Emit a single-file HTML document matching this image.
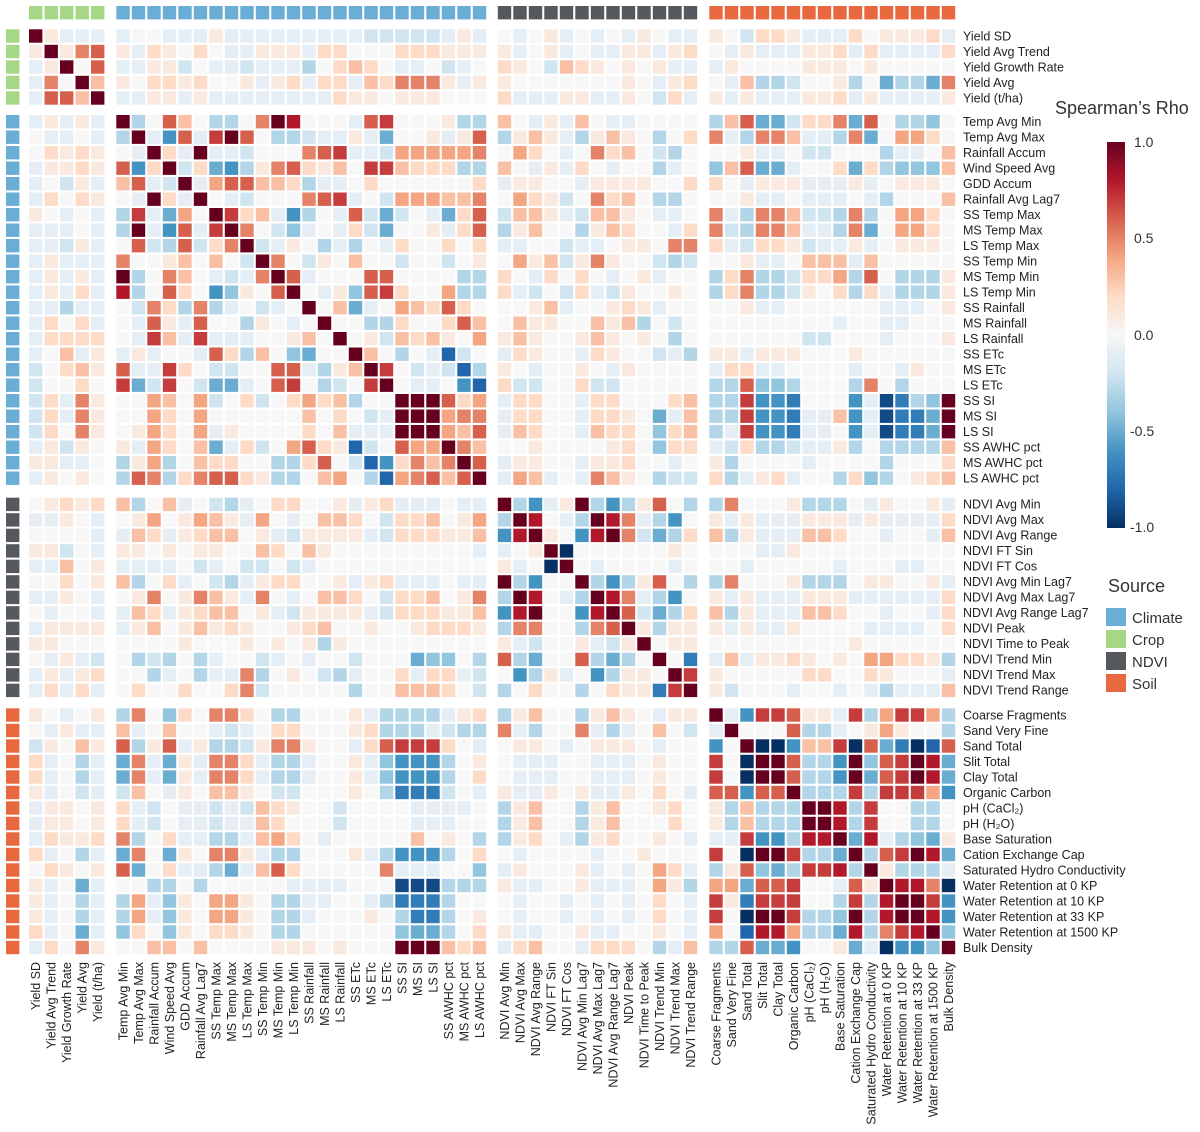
<!DOCTYPE html>
<html><head><meta charset="utf-8">
<style>
html,body{margin:0;padding:0;background:#fff;}
svg{display:block;font-family:"Liberation Sans",Arial,sans-serif;}
</style></head>
<body>
<svg id="chart" width="1200" height="1132" viewBox="0 0 1200 1132" xmlns="http://www.w3.org/2000/svg">
<defs>
<linearGradient id="cbar" x1="0" y1="1" x2="0" y2="0">
<stop offset="0" stop-color="#053061"/><stop offset="0.1" stop-color="#2166ac"/><stop offset="0.2" stop-color="#4393c3"/><stop offset="0.3" stop-color="#92c5de"/><stop offset="0.4" stop-color="#d1e5f0"/><stop offset="0.5" stop-color="#f7f7f7"/><stop offset="0.6" stop-color="#fddbc7"/><stop offset="0.7" stop-color="#f4a582"/><stop offset="0.8" stop-color="#d6604d"/><stop offset="0.9" stop-color="#b2182b"/><stop offset="1" stop-color="#67001f"/>
</linearGradient>
</defs>
<g id="cells"></g>
<g id="bars"></g>
<g id="rlabels"></g>
<g id="clabels"></g>
<g>
<text x="1055" y="114" font-size="18" fill="#333">Spearman’s Rho</text>
<rect x="1107" y="142" width="18" height="386" fill="url(#cbar)"/>
<text x="1134" y="147" font-size="14" fill="#333">1.0</text>
<text x="1134" y="243" font-size="14" fill="#333">0.5</text>
<text x="1134" y="340" font-size="14" fill="#333">0.0</text>
<text x="1130" y="436" font-size="14" fill="#333">-0.5</text>
<text x="1130" y="532" font-size="14" fill="#333">-1.0</text>
</g>
<g>
<text x="1108" y="592" font-size="18" fill="#333">Source</text>
<rect x="1106" y="608" width="20" height="18" fill="#6aaed6"/>
<text x="1132" y="623" font-size="15" fill="#333">Climate</text>
<rect x="1106" y="630" width="20" height="18" fill="#a6d785"/>
<text x="1132" y="645" font-size="15" fill="#333">Crop</text>
<rect x="1106" y="652" width="20" height="18" fill="#55595e"/>
<text x="1132" y="667" font-size="15" fill="#333">NDVI</text>
<rect x="1106" y="674" width="20" height="18" fill="#e8683f"/>
<text x="1132" y="689" font-size="15" fill="#333">Soil</text>
</g>
</svg>
<script>
const cropVars = ["Yield SD","Yield Avg Trend","Yield Growth Rate","Yield Avg","Yield (t/ha)"];
const climateVars = ["Temp Avg Min","Temp Avg Max","Rainfall Accum","Wind Speed Avg","GDD Accum","Rainfall Avg Lag7","SS Temp Max","MS Temp Max","LS Temp Max","SS Temp Min","MS Temp Min","LS Temp Min","SS Rainfall","MS Rainfall","LS Rainfall","SS ETc","MS ETc","LS ETc","SS SI","MS SI","LS SI","SS AWHC pct","MS AWHC pct","LS AWHC pct"];
const ndviVars = ["NDVI Avg Min","NDVI Avg Max","NDVI Avg Range","NDVI FT Sin","NDVI FT Cos","NDVI Avg Min Lag7","NDVI Avg Max Lag7","NDVI Avg Range Lag7","NDVI Peak","NDVI Time to Peak","NDVI Trend Min","NDVI Trend Max","NDVI Trend Range"];
const soilVars = ["Coarse Fragments","Sand Very Fine","Sand Total","Slit Total","Clay Total","Organic Carbon","pH (CaCl\u2082)","pH (H\u2082O)","Base Saturation","Cation Exchange Cap","Saturated Hydro Conductivity","Water Retention at 0 KP","Water Retention at 10 KP","Water Retention at 33 KP","Water Retention at 1500 KP","Bulk Density"];
const groupColors = ["#a6d785","#6aaed6","#55595e","#e8683f"];
// Lower-triangle rho codes: 1-9 = +0.1..+0.9, X = +1, a-i = -0.1..-0.9, z = -1, . = 0
const cropRows = ["X","1X","a1X","a5.X","a663X"];
const climateRows = ["a1a1aX",".aa.acX",".2121.aX","a11216f2X","a.b1a36abX","a2.21.aX2aX","1.a.ac7ae4.X","aaa.acXaf6a7X","aab1a.6bc6b25X","a1aaa5..13.3.bX","a1a1aXc.53.aba5X","a1a2a8c.62.fd1.6X","aacaa.b52c5ca.ba.X","a2.2a.a61a6..c1.a.X","a2222.a73a7aaa..13.X","a.3a1a1a..a62c3.de..X","b.2316aa72.bb..66ac13X","b..2.7eb7.beea.67.cb.7X","b2a51..43.4b.2b.2423c..X","b2a51..42.4......3.2.baXX","b2.51.142.4a1....2.3aaaXXX","a1b1.1a42.3ea2b.4621hb.644X","11aa.c14c.322..cc26.bhf2535X","a1.1.c65c256621cc.34.ch45636X"];
const ndviRows = [".12123c.3a.bca.22..1a12aaa.aaX","aa1.a.14.1431a4.a.332.b223.14cX","....aa32a1233.1ab1111ab222113f8X","11b.a11.1.11..32.31.........aa.1X","aa3.1aaaa.ba.bb.ba...........1a.zX","..2.13c.2a.bca122..1a12aaa.aaXcf..X","aa1.a.15.1531a5.a.332.b223.15cX8.acX",".a..aa32a1233.1ab1111ab222113f8X..f8X","a1111a13.13121..123..1..12221c55..c56X","11.......1...1.1.1c1.........1ab..1ab1X",".a1ab.cbc.ca..ba.a..b...edd.c6ce..6cec.X","a1a12..ca.caa5c.1.bca..2a22ab.fc1a.fc11.X","a2a2a.2..2..25b.....c..3332.bc.2..c.211g7X"];
const soilRows = ["1.a.1c5.d2.552.cc...1acccca12c13..c131.a11X",".a1aa3a.3..aba.22...12cccabcc5ac..5aca.3.baX","b1.316c16a1ccb1551..a267772.a.11.a.111.a..f.X","2a.cae5ae1a552acca..1adfffc.1.aaa..aaa.1..7.zX","2a.cae5ae1a552acca..1adfffc.2.aaa..aaa.1..7.zXX","1a.bab3.a1.331.bb...1.cgggb.a1aa1.1aa1.2.a66f66X","a11.12ab.aabab321..b....aaaa.c13..c13..12.1c3cccX","a11.12ab.aabaa32...b....aaa..c13..c13...2.1c3cccXX","a21125c.2aacca342.a.....3.1.cc12.ac12..1.aaa7ffc88X","2a.cae5.e1.551acc...1acfffc.2.a....a..1...7.zXX7cceX",".21.16e.2aacea362.....5aaa..da1...1a.a.42ac16dec778cX","1a.ea..cc.c.....aaaa...iiiccc1aa..1aaa.41c44e667..a61X","1a.cac4ad1.441.ccaa..acgggc...a..a.a.a.2.a71g777..c7c8X","1a.cac4ad1.441.cca...1.cggc.1.a..a.a.a.2.a7.zXX7ccdXc8XX","2a.ead2.d1.221.cc......deec.21aa..1aa..1.a4.h884cce8c578X","a2.51..33.3....111.1...XXX323a23..a222.ca3cc6eef..1eazffdX"];

const NS = "http://www.w3.org/2000/svg";
const groups = [cropVars, climateVars, ndviVars, soilVars];
const colStarts = [29, 116.3, 497.8, 709.3];
const rowStarts = [29.3, 115, 497.7, 708.3];
const PITCH = 15.5, CELL = 13.4;
const vars = [], gIdx = [], xs = [], ys = [];
groups.forEach((g, gi) => g.forEach((v, k) => {
  vars.push(v); gIdx.push(gi);
  xs.push(colStarts[gi] + k * PITCH);
  ys.push(rowStarts[gi] + k * PITCH);
}));
const N = vars.length;
const lower = cropRows.concat(climateRows, ndviRows, soilRows);
function decode(ch) {
  if (ch === "X") return 1;
  if (ch === "z") return -1;
  if (ch >= "1" && ch <= "9") return (ch.charCodeAt(0) - 48) / 10;
  if (ch >= "a" && ch <= "i") return -(ch.charCodeAt(0) - 96) / 10;
  return 0;
}
const M = [];
for (let i = 0; i < N; i++) { M.push(new Array(N).fill(0)); }
for (let i = 0; i < N; i++) {
  const r = lower[i] || "";
  for (let j = 0; j <= i; j++) {
    const v = j < r.length ? decode(r[j]) : 0;
    M[i][j] = v; M[j][i] = v;
  }
}
const stops = [[-1,[5,48,97]],[-0.8,[33,102,172]],[-0.6,[67,147,195]],[-0.4,[146,197,222]],[-0.2,[209,229,240]],[0,[247,247,247]],[0.2,[253,219,199]],[0.4,[244,165,130]],[0.6,[214,96,77]],[0.8,[178,24,43]],[1,[103,0,31]]];
function color(v) {
  v = Math.max(-1, Math.min(1, v));
  for (let k = 0; k < stops.length - 1; k++) {
    const [a, ca] = stops[k], [b, cb] = stops[k + 1];
    if (v >= a && v <= b) {
      const t = (v - a) / (b - a);
      const c = ca.map((x, n) => Math.round(x + (cb[n] - x) * t));
      return "rgb(" + c.join(",") + ")";
    }
  }
  return "#f7f7f7";
}
const cells = document.getElementById("cells");
for (let i = 0; i < N; i++) {
  for (let j = 0; j < N; j++) {
    const r = document.createElementNS(NS, "rect");
    r.setAttribute("x", xs[j].toFixed(1));
    r.setAttribute("y", ys[i].toFixed(1));
    r.setAttribute("width", CELL);
    r.setAttribute("height", CELL);
    r.setAttribute("fill", color(M[i][j]));
    
    
    cells.appendChild(r);
  }
}
const bars = document.getElementById("bars");
for (let k = 0; k < N; k++) {
  const t = document.createElementNS(NS, "rect");
  t.setAttribute("x", xs[k].toFixed(1)); t.setAttribute("y", 6);
  t.setAttribute("width", CELL); t.setAttribute("height", CELL);
  t.setAttribute("fill", groupColors[gIdx[k]]);
  
  
  bars.appendChild(t);
  const l = document.createElementNS(NS, "rect");
  l.setAttribute("x", 6); l.setAttribute("y", ys[k].toFixed(1));
  l.setAttribute("width", CELL); l.setAttribute("height", CELL);
  l.setAttribute("fill", groupColors[gIdx[k]]);
  
  
  bars.appendChild(l);
}
const rl = document.getElementById("rlabels"), cl = document.getElementById("clabels");
for (let k = 0; k < N; k++) {
  const t = document.createElementNS(NS, "text");
  t.setAttribute("x", 963);
  t.setAttribute("y", (ys[k] + CELL / 2 + 4.3).toFixed(1));
  t.setAttribute("font-size", "12.5");
  t.setAttribute("fill", "#222");
  t.textContent = vars[k];
  
  
  rl.appendChild(t);
  const c = document.createElementNS(NS, "text");
  const cx = xs[k] + CELL / 2 + 4.3;
  c.setAttribute("transform", "translate(" + cx.toFixed(1) + ",962) rotate(-90)");
  c.setAttribute("text-anchor", "end");
  c.setAttribute("font-size", "12.5");
  c.setAttribute("fill", "#222");
  c.textContent = vars[k];
  
  
  cl.appendChild(c);
}
</script>
</body></html>
